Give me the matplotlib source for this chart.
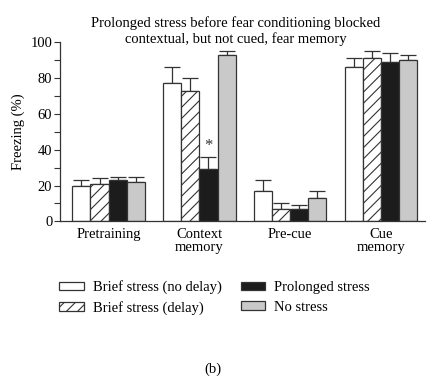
import numpy as np
import matplotlib
matplotlib.use('Agg')
import matplotlib.pyplot as plt
from matplotlib.ticker import MultipleLocator

plt.rc('font', family='Liberation Serif', size=10.5)
plt.rc('hatch', linewidth=0.8, color='#333333')

groups = ['Pretraining', 'Context\nmemory', 'Pre-cue', 'Cue\nmemory']
series = ['Brief stress (no delay)', 'Brief stress (delay)', 'Prolonged stress', 'No stress']
brief_nodelay = [20, 77, 17, 86]
brief_delay = [21, 73, 7, 91]
prolonged = [23, 29, 7, 89]
no_stress = [22, 93, 13, 90]
err_nodelay = [3, 9, 6, 5]
err_delay = [3, 7, 3, 4]
err_prolonged = [2, 7, 2, 5]
err_nostress = [3, 2, 4, 3]

vals = [brief_nodelay, brief_delay, prolonged, no_stress]
errs = [err_nodelay, err_delay, err_prolonged, err_nostress]
fills = ['white', 'white', '#1c1c1c', '#c9c9c9']
hatches = [None, '///', None, None]
edge = '#333333'

fig = plt.figure(figsize=(4.42, 3.84), dpi=100)
ax = fig.add_axes([0.1357, 0.4237, 0.8258, 0.4661])

x = np.arange(len(groups)) * 5.0
for i in range(4):
    pos = x + (i - 1.5)
    ax.bar(pos, vals[i], width=1.0, color=fills[i], edgecolor=edge,
           linewidth=0.9, hatch=hatches[i], label=series[i], zorder=2)
    ax.errorbar(pos, vals[i], yerr=[np.zeros(4), errs[i]], fmt='none',
                ecolor=edge, elinewidth=0.9, capsize=5.5, capthick=0.9, zorder=1)

# significance mark over prolonged stress, context memory
ax.text(x[1] + 0.5, prolonged[1] + err_prolonged[1] + 1.5, '*', ha='center',
        va='bottom', fontsize=12, color='#333333')

ax.set_xlim(-2.68, 17.43)
ax.set_ylim(0, 100)
ax.set_xticks(x)
ax.set_xticklabels(groups, linespacing=1.0)
ax.tick_params(axis='x', length=0, pad=5)
ax.yaxis.set_major_locator(MultipleLocator(20))
ax.yaxis.set_minor_locator(MultipleLocator(10))
ax.tick_params(axis='y', which='both', length=4, width=0.8, color=edge, direction='out', pad=1.5)
ax.set_ylabel('Freezing (%)', labelpad=4)
for s in ['top', 'right']:
    ax.spines[s].set_visible(False)
for s in ['left', 'bottom']:
    ax.spines[s].set_color(edge)
    ax.spines[s].set_linewidth(0.9)

fig.text(0.534, 0.918, 'Prolonged stress before fear conditioning blocked\ncontextual, but not cued, fear memory',
         ha='center', va='center', fontsize=10.5, linespacing=1.2)

h, l = ax.get_legend_handles_labels()
fig.legend(h, l, ncol=2,
           loc='upper left', bbox_to_anchor=(0.121, 0.285), frameon=False,
           handlelength=1.7, handleheight=0.5, handletextpad=0.6,
           columnspacing=1.3, labelspacing=0.45, borderaxespad=0)

fig.text(0.482, 0.02, '(b)', ha='center', va='bottom', fontsize=10.5)

fig.savefig('out.png', dpi=100)
